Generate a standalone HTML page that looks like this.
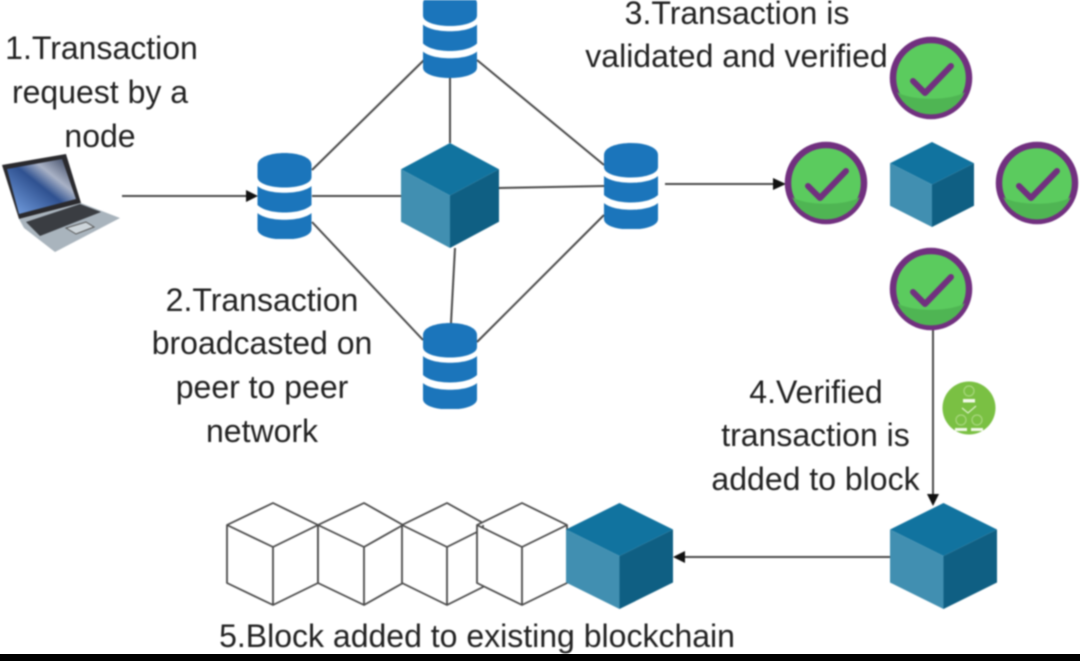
<!DOCTYPE html>
<html><head><meta charset="utf-8">
<style>
html,body{margin:0;padding:0;background:#fff;width:1080px;height:661px;overflow:hidden}
svg{display:block;position:absolute;left:0;top:0}
#bar{position:absolute;left:0;top:654px;width:1080px;height:7px;background:#000}
text{font-family:"Liberation Sans",sans-serif;font-size:32px;fill:#222;text-anchor:middle}
</style></head><body>
<svg width="1080" height="661" viewBox="0 0 1080 661" style="filter:blur(0.8px)">
<defs>
<symbol id="cube" viewBox="0 0 100 100" preserveAspectRatio="none">
<polygon points="50,0 100,25 50,50 0,25" fill="#11739f"/>
<polygon points="0,25 50,50 50,100 0,75" fill="#418fb1"/>
<polygon points="100,25 50,50 50,100 100,75" fill="#0f5f83"/>
</symbol>
<symbol id="db" viewBox="0 0 54 86">
<path d="M0,12 C0,-4 54,-4 54,12 V24 C54,38 0,38 0,24Z" fill="#1b75bb"/>
<path d="M0,33 C10,42 44,42 54,33 V52 C44,62 10,62 0,52Z" fill="#1b75bb"/>
<path d="M0,60 C10,69 44,69 54,60 V76 C54,90 0,90 0,76Z" fill="#1b75bb"/>
</symbol>
<g id="chk">
<circle r="38" fill="#5bcb5e" stroke="#71307f" stroke-width="6.5"/>
<path d="M-34,14 A37,37 0 0 0 34,14 C20,23 -20,23 -34,14Z" fill="#4fb553"/>
<path d="M-18,3 L-6,15 L20,-12" fill="none" stroke="#71307f" stroke-width="6" stroke-linecap="round" stroke-linejoin="round"/>
</g>
<linearGradient id="scr" x1="0" y1="1" x2="1" y2="0">
<stop offset="0" stop-color="#7aa6e8"/><stop offset=".5" stop-color="#2f5190"/><stop offset=".68" stop-color="#a9b2c6"/><stop offset="1" stop-color="#26324e"/>
</linearGradient>
</defs>

<!-- laptop -->
<polygon points="2,165 66,154 81,203 19,219" fill="#2a2a2e"/>
<polygon points="7,169 62,159 76,199 19,214" fill="url(#scr)"/>
<polygon points="19,219 81,203 120,218 55,252 24,228" fill="#a9b4bd"/>
<polygon points="26,222 80,204 101,212 40,236" fill="#3a3d42"/>
<polygon points="66,228 86,222 94,227 76,234" fill="#cdd5da" stroke="#555" stroke-width="1"/>

<!-- connectors -->
<g stroke="#4a4a4a" stroke-width="2" fill="none">
<line x1="122" y1="196" x2="250" y2="196"/>
<line x1="312" y1="170" x2="424" y2="60"/>
<line x1="477" y1="60" x2="604" y2="165"/>
<line x1="312" y1="222" x2="423" y2="340"/>
<line x1="477" y1="342" x2="604" y2="215"/>
<line x1="450" y1="78" x2="450" y2="143"/>
<line x1="455" y1="248" x2="451" y2="323"/>
<line x1="312" y1="196" x2="401" y2="196"/>
<line x1="499" y1="188" x2="604" y2="186"/>
<line x1="665" y1="184" x2="778" y2="184"/>
<line x1="933" y1="330" x2="933" y2="498"/>
<line x1="890" y1="557" x2="682" y2="557"/>
</g>
<g fill="#111">
<polygon points="258,196 246,190 246,202"/>
<polygon points="786,184 773,178 773,190"/>
<polygon points="933,506 927,494 939,494"/>
<polygon points="673,557 685,551 685,563"/>
</g>

<!-- databases -->
<use href="#db" x="257" y="153" width="55" height="86"/>
<use href="#db" x="604" y="143" width="54" height="86"/>
<use href="#db" x="423" y="323" width="54" height="86"/>
<use href="#db" x="423" y="-9" width="54" height="87"/>

<!-- blue cubes -->
<use href="#cube" x="401" y="143" width="98" height="105"/>
<use href="#cube" x="890" y="142" width="84" height="85"/>
<use href="#cube" x="890" y="503" width="107" height="106"/>

<!-- checks -->
<use href="#chk" x="931" y="78"/>
<use href="#chk" x="826" y="183"/>
<use href="#chk" x="1037" y="183"/>
<use href="#chk" x="931" y="289"/>

<!-- green badge -->
<circle cx="969" cy="408" r="26.5" fill="#7ac043"/>
<g fill="none" stroke="#a9d77f" stroke-width="1.2">
<circle cx="969" cy="391" r="5"/>
<circle cx="961" cy="420" r="5"/>
<circle cx="977" cy="420" r="5"/>
<path d="M962,408 L968,413 L976,406" stroke="#dcefc8"/>
</g>
<g fill="#f2f9ea">
<rect x="963" y="399" width="12" height="3.5"/>
<rect x="955" y="428" width="12" height="3"/>
<rect x="971" y="428" width="12" height="3"/>
</g>

<!-- white chain -->
<g fill="#fff" stroke="#4a4a4a" stroke-width="1.8" stroke-linejoin="round">
<path d="M227,525 L273,503 L318,525 L318,583 L273,605 L227,583Z M227,525 L273,547 L318,525 M273,547 L273,605"/>
<path d="M318,525 L364,503 L403,525 L403,583 L364,605 L318,583Z M318,525 L364,547 L403,525 M364,547 L364,605"/>
<path d="M402,525 L447,503 L483,523 L483,587 L447,605 L402,583Z M402,525 L447,547 L483,529 M447,547 L447,605"/>
<path d="M477,525 L522,503 L567,525 L567,583 L522,605 L477,583Z M477,525 L522,547 L567,525 M522,547 L522,605"/>
</g>
<use href="#cube" x="566" y="503" width="107" height="106"/>

<!-- labels -->
<text x="101.500" y="59">1.Transaction</text>
<text x="100" y="103">request by a</text>
<text x="100" y="147">node</text>
<text x="262" y="311">2.Transaction</text>
<text x="262" y="354">broadcasted on</text>
<text x="262" y="398">peer to peer</text>
<text x="262" y="442">network</text>
<text x="737" y="24">3.Transaction is</text>
<text x="736.500" y="67">validated and verified</text>
<text x="816" y="403">4.Verified</text>
<text x="815.500" y="446">transaction is</text>
<text x="815.500" y="490">added to block</text>
<text x="477" y="647">5.Block added to existing blockchain</text>
</svg>
<div id="bar"></div>
</body></html>
